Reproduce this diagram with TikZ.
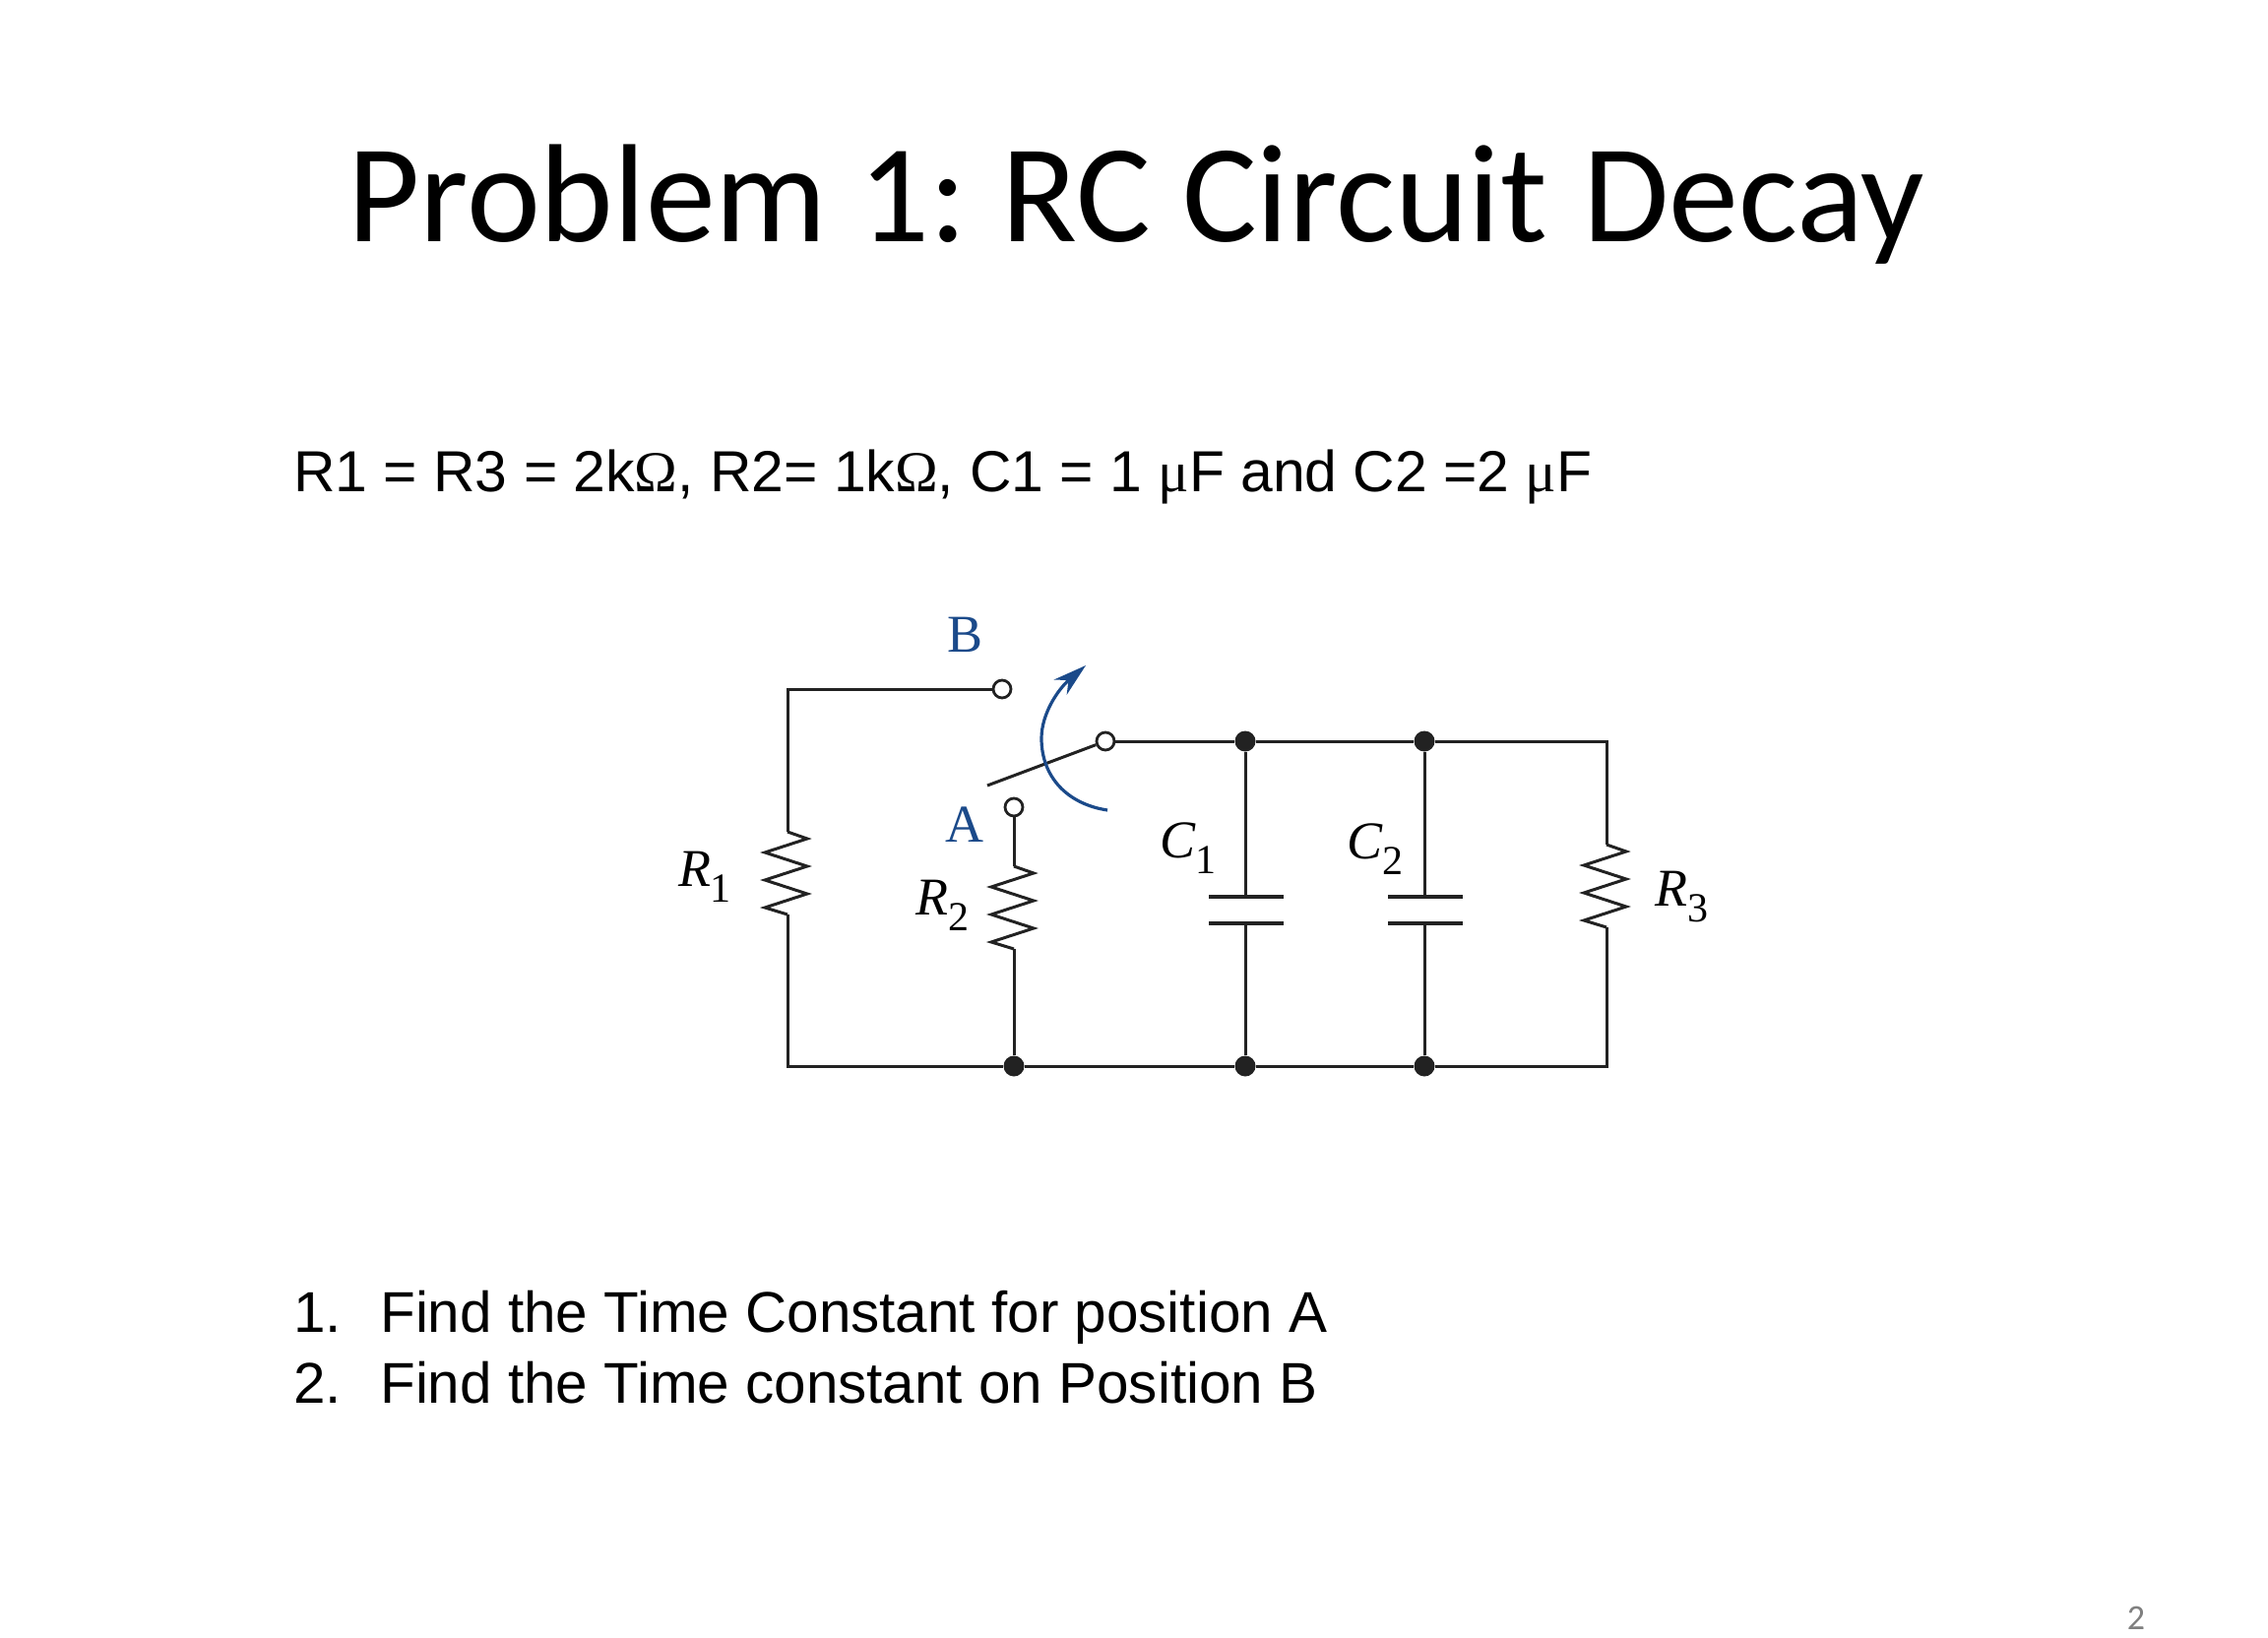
\documentclass[tikz,border=0pt]{standalone}
\usepackage{fontspec}
\setmainfont{Liberation Sans}
\newfontfamily\titlefont{Carlito}
\newfontfamily\greekfont{Liberation Serif}
\usetikzlibrary{arrows.meta}
\definecolor{wirecol}{HTML}{222222}
\definecolor{swblue}{HTML}{1B4A8A}
\definecolor{pagegrey}{HTML}{808080}
% zigzag of one resistor, going down from its upper end
\newcommand{\resistor}[1]{\draw[line] (#1) -- ++(20,7) -- ++(-43,14) -- ++(43,14) -- ++(-43,14) -- ++(43,14) -- ++(-43,14) -- ++(23,7);}
\newcommand{\sublabel}[2]{{\greekfont\fontsize{27}{27}\selectfont\textit{#1}\raisebox{-.3em}{\fontsize{21}{21}\selectfont #2}}}
\begin{document}
\begin{tikzpicture}[x=0.5pt,y=-0.5pt]
   \tikzstyle{line} = [draw, wirecol, line width=1.5pt, line join=miter]
   \tikzstyle{textline} = [anchor=base west, inner sep=0pt, font=\fontsize{29.2}{29.2}\selectfont]
   \tikzstyle{dot} = [circle, fill=wirecol, inner sep=0pt, minimum size=10.5pt]
   \tikzstyle{term} = [circle, draw=wirecol, fill=white, line width=1.4pt, inner sep=0pt, minimum size=9pt]
   \tikzstyle{plate} = [fill=wirecol, inner sep=0pt, minimum width=38pt, minimum height=1.6pt]
   \tikzstyle{lab} = [inner sep=0pt]
   \tikzstyle{swlab} = [inner sep=0pt, text=swblue, font=\greekfont\fontsize{27}{27}\selectfont]
   \useasboundingbox (0,0) rectangle (2304,1664);

   \node[textline, font=\titlefont\fontsize{71}{71}\selectfont] (title) at (353,246) {Problem 1:\hspace{-3.7pt} RC Circuit\hspace{2.2pt} Decay};
   \node[textline, font=\fontsize{29.4}{29.4}\selectfont] (values) at (298,499) {R1 = R3 = 2k{\greekfont Ω}, R2= 1k{\greekfont Ω}, C1 = 1 {\greekfont μ}F and C2 =2 {\greekfont μ}F};
   \node[textline] (find1) at (298,1353) {\makebox[44pt][l]{1.}Find the Time Constant for position A};
   \node[textline] (find2) at (298,1425) {\makebox[44pt][l]{2.}Find the Time constant on Position B};
   \node[anchor=base, inner sep=0pt, text=pagegrey, font=\titlefont\fontsize{18}{18}\selectfont] (page) at (2170,1655) {2};

   \node[term] (b) at (1018,700) {};
   \node[term] (a) at (1030,820) {};
   \node[term] (pole) at (1123,753) {};
   \coordinate (blade) at (1003,798);

   \node[dot] (topc1) at (1265,753) {};
   \node[dot] (topc2) at (1447,753) {};
   \node[dot] (botr2) at (1030,1083) {};
   \node[dot] (botc1) at (1265,1083) {};
   \node[dot] (botc2) at (1447,1083) {};

   \node[plate] (c1up) at (1266,911) {};
   \node[plate] (c1lo) at (1266,938) {};
   \node[plate] (c2up) at (1448,911) {};
   \node[plate] (c2lo) at (1448,938) {};

   \coordinate (cornertl) at (800,700);
   \coordinate (cornerbl) at (800,1083);
   \coordinate (cornertr) at (1632,753);
   \coordinate (cornerbr) at (1632,1083);
   \coordinate (r1t) at (800,845);
   \coordinate (r1b) at (800,929);
   \coordinate (r2t) at (1030,880);
   \coordinate (r2b) at (1030,964);
   \coordinate (r3t) at (1632,858);
   \coordinate (r3b) at (1632,942);

   \resistor{r1t}
   \resistor{r2t}
   \resistor{r3t}

   \path [line] (b) -- (cornertl) -- (r1t);
   \path [line] (r1b) -- (cornerbl) -- (botr2);
   \path [line] (a) -- (r2t);
   \path [line] (r2b) -- (botr2);
   \path [line] (blade) -- (pole);
   \path [line] (pole) -- (topc1);
   \path [line] (topc1) -- (topc2);
   \path [line] (topc2) -- (cornertr) -- (r3t);
   \path [line] (r3b) -- (cornerbr) -- (botc2);
   \path [line] (botc2) -- (botc1);
   \path [line] (botc1) -- (botr2);
   \path [line] (topc1) -- (topc1 |- c1up);
   \path [line] (botc1 |- c1lo) -- (botc1);
   \path [line] (topc2) -- (topc2 |- c2up);
   \path [line] (botc2 |- c2lo) -- (botc2);

   \coordinate (swstart) at (1125,823);
   \coordinate (swend) at (1103,676);
   \draw [swblue, line width=1.6pt, -{Stealth[length=17pt,width=10pt]}] (swstart) .. controls (1085,817) and (1058,790) .. (1058,750) .. controls (1058,725) and (1075,700) .. (swend);

   \node[swlab] (labb) at (980,645) {B};
   \node[swlab] (laba) at (980,838) {A};
   \node[lab] (labr1) at (716,891) {\sublabel{R}{1}};
   \node[lab] (labr2) at (957,920) {\sublabel{R}{2}};
   \node[lab] (labr3) at (1708,911) {\sublabel{R}{3}};
   \node[lab] (labc1) at (1207,862) {\sublabel{C}{1}};
   \node[lab] (labc2) at (1397,863) {\sublabel{C}{2}};
 \end{tikzpicture}
\end{document}
